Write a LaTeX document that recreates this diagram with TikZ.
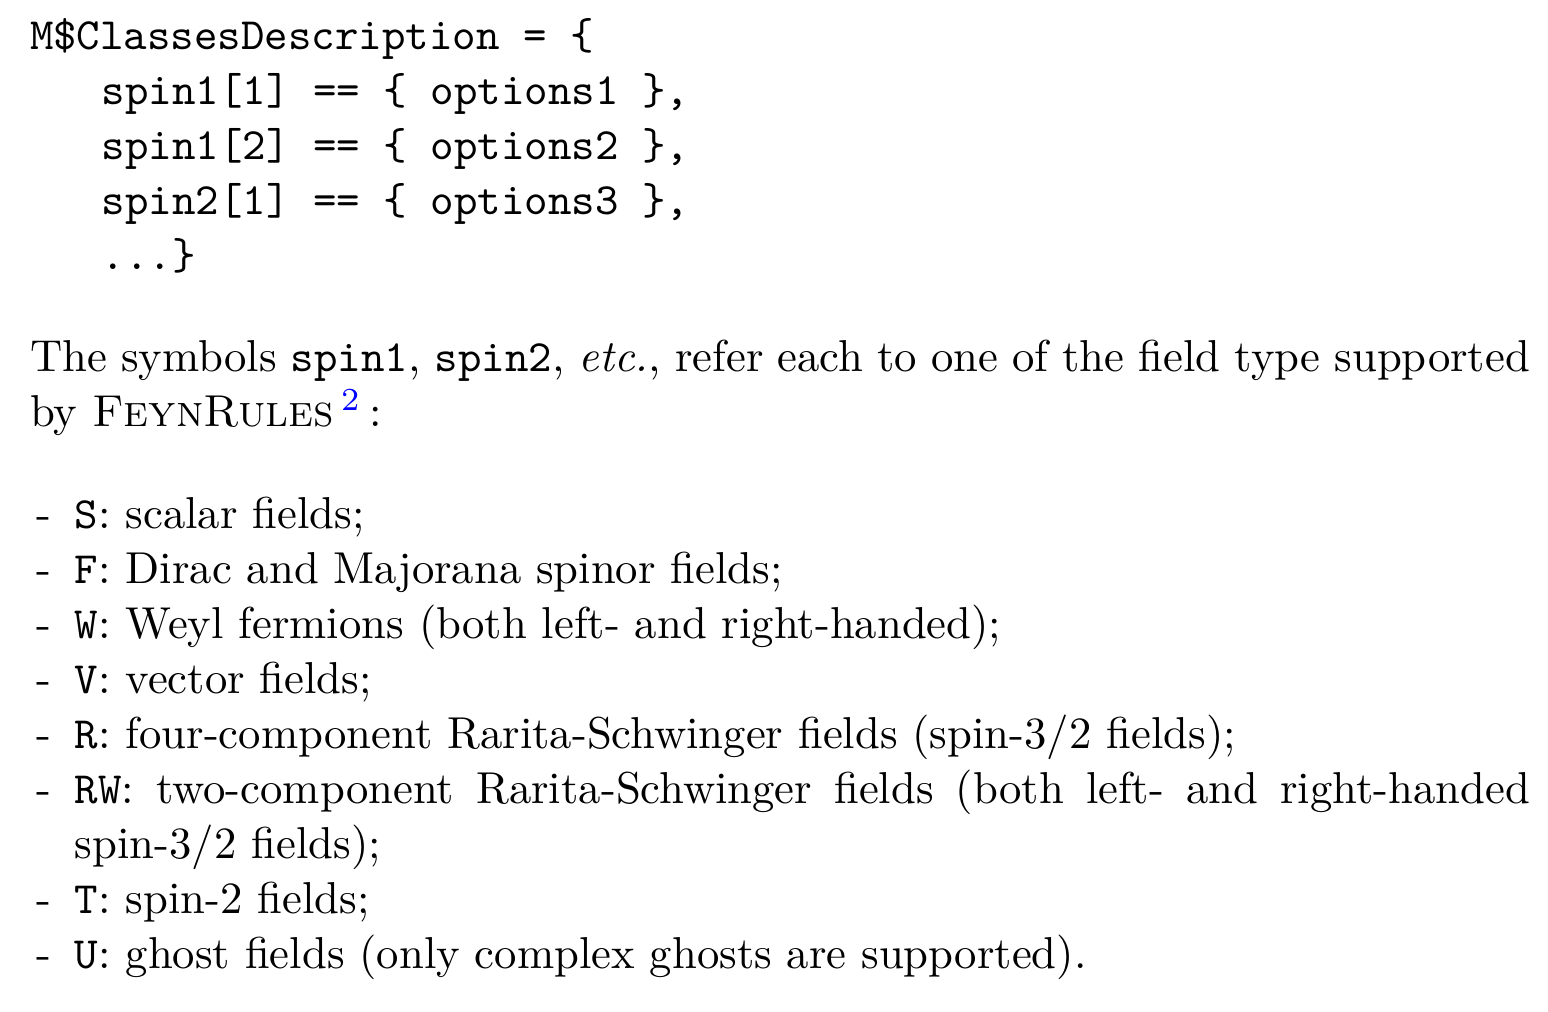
\documentclass[tikz,border=0pt]{standalone}
\usepackage{xcolor}
\begin{document}
\begin{tikzpicture}[x=0.218pt,y=-0.218pt,
  t/.style={anchor=base west,inner sep=0pt,outer sep=0pt,font=\fontsize{9.74}{12}\selectfont},
  c/.style={t,font=\fontsize{9.75}{12}\selectfont}]
\useasboundingbox (0,0) rectangle (1548,1012);
\node[c] (c1) at (30,50) {\texttt{M\$ClassesDescription = \{}};
\node[c] (c2) at (102,105) {\texttt{spin1[1] == \{ options1 \},}};
\node[c] (c3) at (102,160) {\texttt{spin1[2] == \{ options2 \},}};
\node[c] (c4) at (102,215) {\texttt{spin2[1] == \{ options3 \},}};
\node[c] (c5) at (102,270) {\texttt{...\}}};
\node[t] (p1) at (30,372) {\makebox[327pt][s]{The symbols \texttt{spin1}, \texttt{spin2}, \textit{etc.}, refer each to one of the field type supported}};
\node[t] (p2) at (30,427) {by \textsc{FeynRules}\,$^{\color{blue}2}$\,:};
\foreach \y in {529,584,639,694,749,804,914,969} \node[t] at (36,\y) {-};
\node[t] (l1) at (75,529) {\texttt{S}: scalar fields;};
\node[t] (l2) at (75,584) {\texttt{F}: Dirac and Majorana spinor fields;};
\node[t] (l3) at (75,639) {\texttt{W}: Weyl fermions (both left- and right-handed);};
\node[t] (l4) at (75,694) {\texttt{V}: vector fields;};
\node[t] (l5) at (75,749) {\texttt{R}: four-component Rarita-Schwinger fields (spin-3/2 fields);};
\node[t] (l6) at (75,804) {\makebox[317.2pt][s]{\texttt{RW}: two-component Rarita-Schwinger fields (both left- and right-handed}};
\node[t] (l6b) at (75,859) {spin-3/2 fields);};
\node[t] (l7) at (75,914) {\texttt{T}: spin-2 fields;};
\node[t] (l8) at (75,969) {\texttt{U}: ghost fields (only complex ghosts are supported).};
\end{tikzpicture}
\end{document}
